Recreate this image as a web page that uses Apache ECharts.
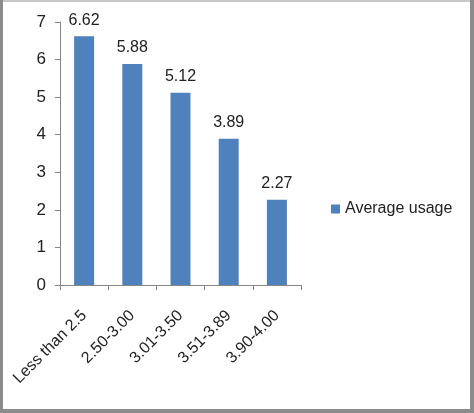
<!DOCTYPE html>
<html>
<head>
<meta charset="utf-8">
<script src="https://cdn.jsdelivr.net/npm/echarts@6/dist/echarts.min.js"></script>
<style>
  html, body { margin: 0; padding: 0; background: #fff; }
  #chart { width: 474px; height: 413px; }
</style>
</head>
<body>
<div id="chart"></div>
<script>
var categories = ['Less than 2.5', '2.50-3.00', '3.01-3.50', '3.51-3.89', '3.90-4.00'];
var usage = [6.62, 5.88, 5.12, 3.89, 2.27];
var yTicks = [0, 1, 2, 3, 4, 5, 6, 7];

var myChart = echarts.init(document.getElementById('chart'));
var font = 'Liberation Sans, Arial, sans-serif';
var option = {
  backgroundColor: '#fff',
  animation: false,
  // frame around the picture
  graphic: [
    { type: 'rect', shape: { x: 0, y: 0, width: 474, height: 2 }, style: { fill: '#c8c8c8' } },
    { type: 'rect', shape: { x: 0, y: 0, width: 3, height: 413 }, style: { fill: '#8c8c8c' } },
    { type: 'rect', shape: { x: 470, y: 0, width: 4, height: 413 }, style: { fill: '#8c8c8c' } },
    { type: 'rect', shape: { x: 0, y: 409, width: 474, height: 4 }, style: { fill: '#8c8c8c' } }
  ],
  legend: {
    data: ['Average usage'],
    orient: 'vertical',
    left: 326,
    top: 196,
    itemWidth: 9,
    itemHeight: 9,
    itemGap: 4,
    icon: 'rect',
    textStyle: { fontFamily: font, fontSize: 16, color: '#222' }
  },
  grid: { left: 60, right: 173, top: 22, bottom: 128 },
  xAxis: {
    type: 'category',
    data: categories,
    axisLine: { lineStyle: { color: '#868686' } },
    axisTick: { show: true, length: 5, lineStyle: { color: '#868686' } },
    axisLabel: { rotate: 45, interval: 0, margin: 28, fontFamily: font, fontSize: 16, color: '#222' }
  },
  yAxis: {
    type: 'value',
    min: yTicks[0],
    max: yTicks[yTicks.length - 1],
    interval: 1,
    splitLine: { show: false },
    axisLine: { show: true, lineStyle: { color: '#868686' } },
    axisTick: { show: true, length: 5, lineStyle: { color: '#868686' } },
    axisLabel: { margin: 14, fontFamily: font, fontSize: 17, color: '#222' }
  },
  series: [
    {
      name: 'Average usage',
      type: 'bar',
      data: usage,
      barWidth: 20,
      itemStyle: { color: '#4f81bd' },
      label: {
        show: true,
        position: 'top',
        distance: 8,
        fontFamily: font,
        fontSize: 16,
        color: '#222',
        formatter: function (p) { return p.value.toFixed(2); }
      }
    }
  ]
};
myChart.setOption(option);
</script>
</body>
</html>
